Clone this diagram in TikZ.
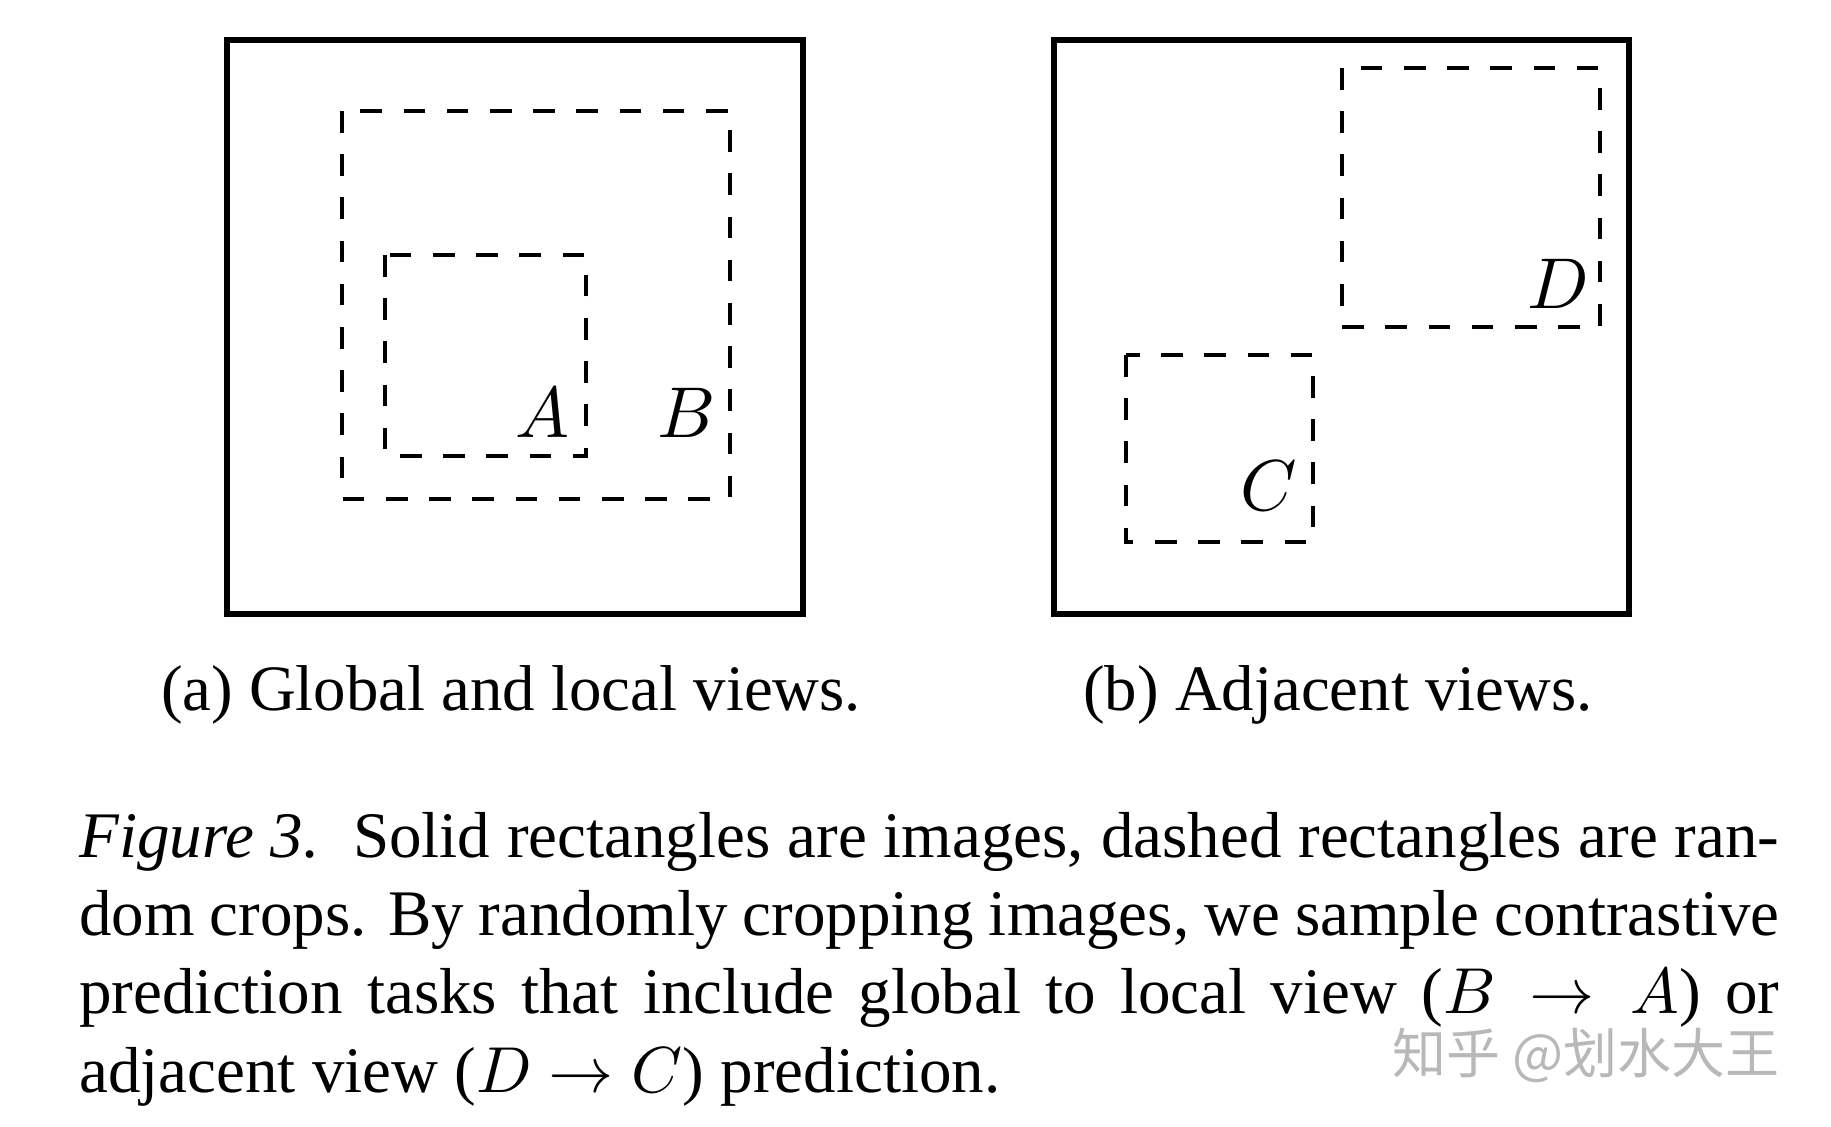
\documentclass[tikz,border=0pt]{standalone}
\usepackage{fontspec}
\usepackage{unicode-math}
\setmainfont{Liberation Serif}
\setmathfont{Latin Modern Math}
\newfontfamily\cjk{Noto Sans CJK SC}
\begin{document}
\begin{tikzpicture}[x=0.5pt,y=-0.5pt,
  solidbox/.style={line width=2.7pt},
  cropbox/.style={line width=1.6pt, dash pattern=on 10.8pt off 10.8pt},
  lbl/.style={inner sep=0pt, anchor=base, font=\fontsize{36}{40}\selectfont},
  sub/.style={inner sep=0pt, anchor=base, font=\fontsize{32.4}{38.5}\selectfont},
  capline/.style={inner sep=0pt, anchor=base west, font=\fontsize{32.5}{38.5}\selectfont},
  wmark/.style={inner sep=0pt, anchor=base west, text=black!28, font=\cjk\fontsize{27}{28}\selectfont}]
\useasboundingbox (0,0) rectangle (1831,1126);
% panel (a)
\draw[solidbox] (227,40) rectangle (803,614);
\draw[cropbox] (342,111) rectangle (730,499);
\draw[cropbox] (385,255) rectangle (586,456);
\node[lbl] (labA) at (542,437) {$A$};
\node[lbl] (labB) at (686,437) {$B$};
\node[sub] (suba) at (511,710) {(a) Global and local views.};
% panel (b)
\draw[solidbox] (1054,40) rectangle (1629,614);
\draw[cropbox] (1342,68) rectangle (1600,327);
\draw[cropbox] (1126,355) rectangle (1313,542);
\node[lbl] (labD) at (1557,308) {$D$};
\node[lbl] (labC) at (1269,510) {$C$};
\node[sub] (subb) at (1338,710) {(b) Adjacent views.};
% caption
\node[capline] (cap1) at (79,857) {\makebox[850pt][s]{\textit{Figure 3.}\ \ Solid rectangles are images, dashed rectangles are ran-}};
\node[capline] (cap2) at (79,935) {\makebox[850pt][s]{dom crops. By randomly cropping images, we sample contrastive}};
\node[capline] (cap3) at (79,1013) {\makebox[850pt][s]{prediction tasks that include global to local view ($B\rightarrow A$) or}};
\node[capline] (cap4) at (79,1092) {adjacent view ($D\rightarrow C$) prediction.};
\node[wmark] (wm) at (1392,1073) {知乎 @划水大王};
\end{tikzpicture}
\end{document}
